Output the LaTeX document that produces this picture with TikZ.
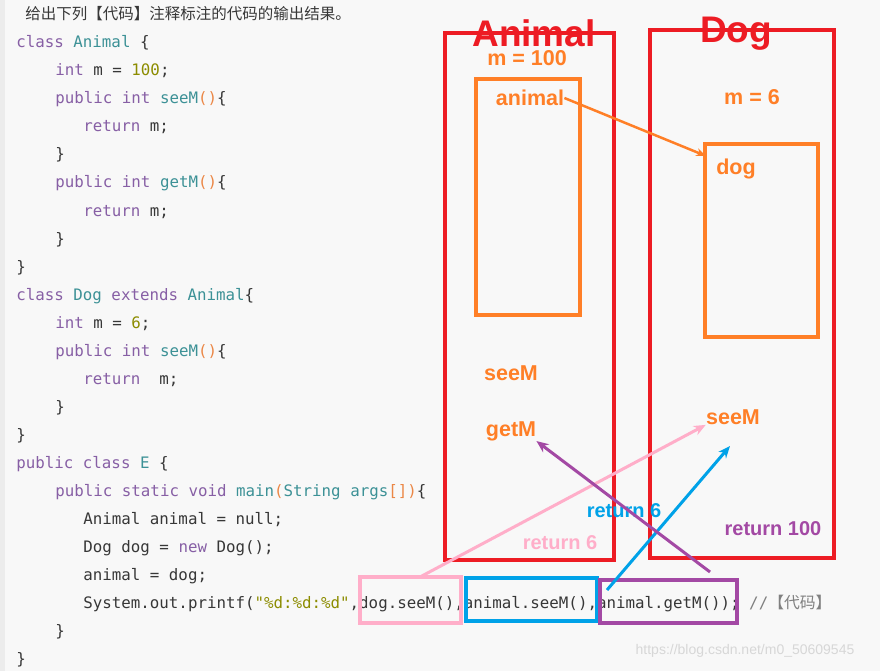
\documentclass[tikz,border=0pt]{standalone}
\usepackage{fontspec}
\setmainfont{Liberation Sans}
\setmonofont{DejaVu Sans Mono}
\newfontfamily\cjk{Noto Sans CJK SC}
\usetikzlibrary{arrows.meta}
\definecolor{kw}{RGB}{135,95,165}
\definecolor{ty}{RGB}{60,145,150}
\definecolor{num}{RGB}{140,140,0}
\definecolor{par}{RGB}{235,135,70}
\definecolor{txt}{RGB}{55,55,55}
\definecolor{redbox}{RGB}{237,28,36}
\definecolor{orng}{RGB}{255,127,39}
\definecolor{pnk}{RGB}{255,174,201}
\definecolor{blu}{RGB}{0,162,232}
\definecolor{prp}{RGB}{163,73,164}
\newcommand{\kw}[1]{\textcolor{kw}{#1}}
\newcommand{\ty}[1]{\textcolor{ty}{#1}}
\newcommand{\num}[1]{\textcolor{num}{#1}}
\newcommand{\pa}[1]{\textcolor{par}{#1}}
\tikzset{every picture/.style={line width=0.75pt}}
\tikzset{
  codeline/.style={anchor=base west,inner sep=0pt,font=\ttfamily\fontsize{15.8}{17}\selectfont,text=txt},
  classbox/.style={draw=redbox,line width=4pt},
  objbox/.style={draw=orng,line width=3.5pt},
  callbox/.style={line width=3.5pt},
  lab/.style={font=\bfseries\fontsize{21.5}{23}\selectfont,text=orng,inner sep=0pt},
  title/.style={font=\bfseries\fontsize{37}{40}\selectfont,text=redbox,inner sep=0pt},
  ret/.style={font=\bfseries\fontsize{20}{22}\selectfont,inner sep=0pt},
}
\begin{document}
\begin{tikzpicture}[x=1pt,y=1pt,yscale=-1,xscale=1]
\useasboundingbox (0,0) rectangle (880,671);
\fill[fill={rgb,255:red,248;green,248;blue,248}] (0,0) rectangle (880,671);
\fill[fill={rgb,255:red,236;green,236;blue,236}] (0,0) rectangle (5,671);

% Question
\node (question) [anchor=west,inner sep=0pt,text=txt] at (25,14) {\cjk\fontsize{15.5}{17}\selectfont 给出下列【代码】注释标注的代码的输出结果。};

% Code lines
\node (c1) [codeline] at (16,48) {\kw{class} \ty{Animal} \{};
\node (c2) [codeline] at (55,76) {\kw{int} m = \num{100};};
\node (c3) [codeline] at (55,104) {\kw{public} \kw{int} \ty{seeM}\pa{()}\{};
\node (c4) [codeline] at (83,132) {\kw{return} m;};
\node (c5) [codeline] at (55,160) {\}};
\node (c6) [codeline] at (55,188) {\kw{public} \kw{int} \ty{getM}\pa{()}\{};
\node (c7) [codeline] at (83,216) {\kw{return} m;};
\node (c8) [codeline] at (55,244) {\}};
\node (c9) [codeline] at (16,272) {\}};
\node (c10) [codeline] at (16,300) {\kw{class} \ty{Dog} \kw{extends} \ty{Animal}\{};
\node (c11) [codeline] at (55,328) {\kw{int} m = \num{6};};
\node (c12) [codeline] at (55,356) {\kw{public} \kw{int} \ty{seeM}\pa{()}\{};
\node (c13) [codeline] at (83,384) {\kw{return}\ \ m;};
\node (c14) [codeline] at (55,412) {\}};
\node (c15) [codeline] at (16,440) {\}};
\node (c16) [codeline] at (16,468) {\kw{public} \kw{class} \ty{E} \{};
\node (c17) [codeline] at (55,496) {\kw{public} \kw{static} \kw{void} \ty{main}\pa{(}\ty{String} \ty{args}\pa{[]}\pa{)}\{};
\node (c18) [codeline] at (83,524) {Animal animal = null;};
\node (c19) [codeline] at (83,552) {Dog dog = \kw{new} Dog();};
\node (c20) [codeline] at (83,580) {animal = dog;};
\node (c21) [codeline] at (83,608) {System.out.printf(\num{"\%d:\%d:\%d"},dog.seeM(),animal.seeM(),animal.getM()); \textcolor{gray}{//{\cjk【代码】}}};
\node (c22) [codeline] at (55,636) {\}};
\node (c23) [codeline] at (16,664) {\}};

% Class boxes
\draw[classbox] (445,33) rectangle (614,560);
\draw[classbox] (650,30) rectangle (834,558);
\node (animaltitle) [title] at (534,33) {Animal};
\node (dogtitle) [title] at (736,34) {Dog};

% Objects
\node (mhundred) [lab] at (527,58) {m = 100};
\draw[objbox] (476,79) rectangle (580,315);
\node (animal) [lab] at (530,98) {animal};
\node (msix) [lab] at (752,97) {m = 6};
\draw[objbox] (705,144) rectangle (818,337);
\node (dog) [lab] at (736,169) {dog};
\node (seeMa) [lab] at (511,373) {seeM};
\node (getMa) [lab] at (511,431) {getM};
\node (seeMd) [lab] at (733,417) {seeM};
\draw[-{Stealth[length=10pt,width=8pt]},draw=orng,line width=2.5pt] (animal.east) -- (706,156);

% Call boxes
\node (pinkbox) [draw=pnk,callbox,minimum width=101pt,minimum height=46pt] at (410.5,600) {};
\node (bluebox) [draw=blu,callbox,minimum width=131pt,minimum height=43pt] at (531.5,599.5) {};
\node (purplebox) [draw=prp,callbox,minimum width=137pt,minimum height=43pt] at (668.5,601.5) {};

% Returns
\node (retpink) [ret,text=pnk] at (560,543) {return 6};
\node (retblue) [ret,text=blu] at (624,511) {return 6};
\node (retpurple) [ret,text=prp] at (773,529) {return 100};
\coordinate (pinkstart) at (420,577);
\coordinate (bluestart) at (607,590);
\coordinate (purplestart) at (710,572);
\draw[-{Stealth[length=12pt,width=10pt]},draw=pnk,line width=3pt] (pinkstart) -- (seeMd.south west);
\draw[-{Stealth[length=12pt,width=10pt]},draw=blu,line width=3pt] (bluestart) -- (730,446);
\draw[-{Stealth[length=12pt,width=10pt]},draw=prp,line width=3pt] (purplestart) -- (getMa.south east);

% Watermark
\node (watermark) [inner sep=0pt,text={rgb,255:red,215;green,215;blue,215},font=\fontsize{14}{16}\selectfont] at (745,651) {https://blog.csdn.net/m0\_50609545};
\end{tikzpicture}
\end{document}
